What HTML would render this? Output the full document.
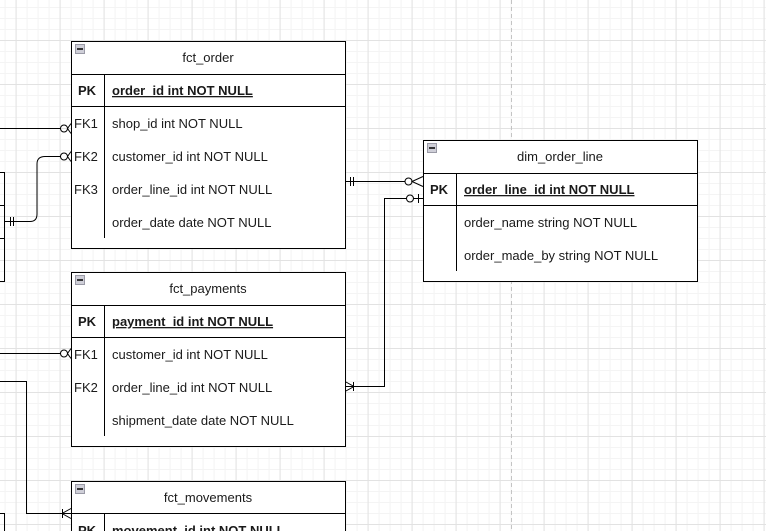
<!DOCTYPE html>
<html><head><meta charset="utf-8"><style>
html,body{margin:0;padding:0;background:#fff;}
svg{display:block;font-family:"Liberation Sans",Arial,sans-serif;}
</style></head><body>
<svg width="766" height="531" viewBox="0 0 766 531" xmlns="http://www.w3.org/2000/svg">
<defs>
<pattern id="minor" x="4.6" y="7" width="11" height="11" patternUnits="userSpaceOnUse">
<path d="M0.5 0V11M0 0.5H11" stroke="#f4f4f4" stroke-width="1" fill="none"/>
</pattern>
<pattern id="major" x="15.6" y="40" width="44" height="44" patternUnits="userSpaceOnUse">
<path d="M0.5 0V44M0 0.5H44" stroke="#e2e2e2" stroke-width="1" fill="none"/>
</pattern>
</defs>
<rect width="766" height="531" fill="#fff"/>
<rect width="766" height="531" fill="url(#minor)"/>
<rect width="766" height="531" fill="url(#major)"/>
<line x1="511.5" y1="0" x2="511.5" y2="531" stroke="#c4c4c4" stroke-dasharray="4,3"/>

<g fill="none" stroke="#000" stroke-width="1">
<path d="M0 172.5H4.5V281.5H0M0 205.5H4.5M0 238.5H4.5"/>
<path d="M0 513.5H4.5V531"/>
<path d="M0 128.5H61"/>
<circle cx="64" cy="128.5" r="3.5"/><path d="M71 123.5L67.5 128.5L71 133.5"/>
<path d="M5 221.5H30Q37 221.5 37 214V164Q37 156.5 45 156.5H61"/>
<path d="M10.5 217V226M13.5 217V226"/>
<circle cx="64" cy="156.5" r="3.5"/><path d="M71 151.5L67.5 156.5L71 161.5"/>
<path d="M0 353.5H61"/>
<circle cx="64" cy="353.5" r="3.5"/><path d="M71 348.5L67.5 353.5L71 358.5"/>
<path d="M0 381.5H26.5V513.5H71"/>
<path d="M71 508.5L62 513.5L71 518.5M62.5 509V518"/>
<path d="M345 181.5H405"/>
<path d="M350.5 177V186M353.5 177V186"/>
<circle cx="408.5" cy="181.5" r="3.5"/><path d="M423 176.5L412 181.5L423 186.5"/>
<path d="M345 386.5H384.5V198.5H406.5"/>
<path d="M345 381.5L354 386.5L345 391.5M353.5 382V391"/>
<circle cx="410" cy="198.5" r="3.5"/><path d="M413.5 198.5H423M418.5 194V203"/>
</g>

<g stroke="#000" fill="none">
<rect x="71.5" y="41.5" width="274" height="207" fill="#fff"/>
<path d="M71.5 74.5H345.5M71.5 106.5H345.5M104.5 74.5V238"/>
</g>
<g stroke="#000" fill="none">
<rect x="71.5" y="272.5" width="274" height="174" fill="#fff"/>
<path d="M71.5 305.5H345.5M71.5 337.5H345.5M104.5 305.5V436"/>
</g>
<g stroke="#000" fill="none">
<rect x="71.5" y="481.5" width="274" height="60" fill="#fff"/>
<path d="M71.5 513.5H345.5M104.5 513.5V531"/>
</g>
<g stroke="#000" fill="none">
<rect x="423.5" y="140.5" width="274" height="141" fill="#fff"/>
<path d="M423.5 173.5H697.5M423.5 205.5H697.5M456.5 173.5V271"/>
</g>
<g>
<rect x="75.5" y="44.5" width="9" height="9" fill="#cfcfd8" stroke="#9a9aa6"/><path d="M77 49H83" stroke="#000" stroke-width="1.5"/>
<rect x="75.5" y="275.5" width="9" height="9" fill="#cfcfd8" stroke="#9a9aa6"/><path d="M77 280H83" stroke="#000" stroke-width="1.5"/>
<rect x="75.5" y="484.5" width="9" height="9" fill="#cfcfd8" stroke="#9a9aa6"/><path d="M77 489H83" stroke="#000" stroke-width="1.5"/>
<rect x="427.5" y="143.5" width="9" height="9" fill="#cfcfd8" stroke="#9a9aa6"/><path d="M429 148H435" stroke="#000" stroke-width="1.5"/>
</g>

<g font-size="13" fill="#1a1a1a">
<text x="208" y="62" text-anchor="middle">fct_order</text>
<text x="78" y="95" font-weight="bold">PK</text>
<text x="112" y="95" font-weight="bold" text-decoration="underline">order_id int NOT NULL</text>
<text x="74" y="128">FK1</text><text x="112" y="128">shop_id int NOT NULL</text>
<text x="74" y="161">FK2</text><text x="112" y="161">customer_id int NOT NULL</text>
<text x="74" y="194">FK3</text><text x="112" y="194">order_line_id int NOT NULL</text>
<text x="112" y="227">order_date date NOT NULL</text>

<text x="208" y="293" text-anchor="middle">fct_payments</text>
<text x="78" y="326" font-weight="bold">PK</text>
<text x="112" y="326" font-weight="bold" text-decoration="underline">payment_id int NOT NULL</text>
<text x="74" y="359">FK1</text><text x="112" y="359">customer_id int NOT NULL</text>
<text x="74" y="392">FK2</text><text x="112" y="392">order_line_id int NOT NULL</text>
<text x="112" y="425">shipment_date date NOT NULL</text>

<text x="208" y="502" text-anchor="middle">fct_movements</text>
<text x="78" y="535" font-weight="bold">PK</text>
<text x="112" y="535" font-weight="bold" text-decoration="underline">movement_id int NOT NULL</text>

<text x="560" y="161" text-anchor="middle">dim_order_line</text>
<text x="430" y="194" font-weight="bold">PK</text>
<text x="464" y="194" font-weight="bold" text-decoration="underline">order_line_id int NOT NULL</text>
<text x="464" y="227">order_name string NOT NULL</text>
<text x="464" y="260">order_made_by string NOT NULL</text>
</g>
</svg>
</body></html>
